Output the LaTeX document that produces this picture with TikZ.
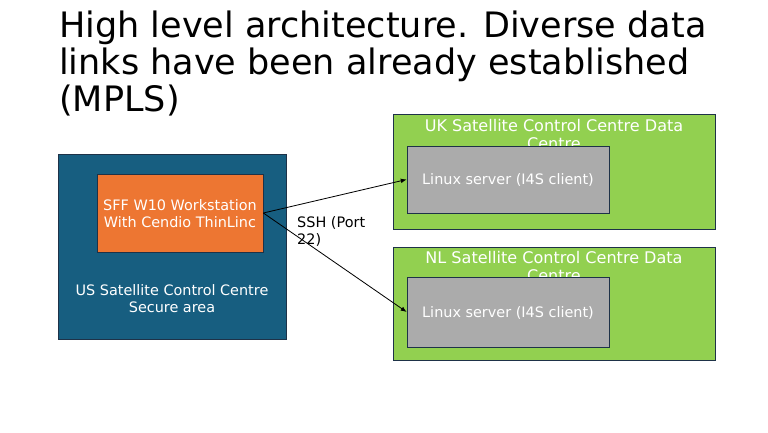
\documentclass[tikz,border=0pt]{standalone}
\usepackage{fontspec}
\setmainfont{DejaVu Sans}
\usepackage{xcolor}
\usepackage{tikz}
\usetikzlibrary{arrows.meta}
\definecolor{SCBlue}{RGB}{23,94,128}
\definecolor{SCOrange}{RGB}{237,118,50}
\definecolor{SCGreen}{RGB}{146,208,80}
\definecolor{SCGray}{RGB}{171,171,171}
\definecolor{SCEdge}{RGB}{30,50,72}

\begin{document}
\begin{tikzpicture}[x=0.03cm, y=-0.03cm,
      box/.style={rectangle, draw=SCEdge, line width=0.6pt, inner sep=0pt},
      lbl/.style={align=center, text=white, font=\fontsize{12.3}{14.5}\selectfont, inner sep=0pt},
      zonelbl/.style={lbl, font=\fontsize{13.7}{14.8}\selectfont},
      arr/.style={-{Latex[length=5pt, width=4pt]}, draw=black, line width=0.7pt}
    ]
    \useasboundingbox (0,0) rectangle (768,433);

    \node[anchor=north west, inner sep=0pt, align=left,
          font=\fontsize{29.9}{31.5}\selectfont] (title) at (59,10.4)
          {High level architecture. Diverse data\\links have been already established\\(MPLS)};

    \node[box, fill=SCBlue, minimum width=6.84cm, minimum height=5.55cm] (us) at (172,246.5) {};
    \node[lbl] (ustxt) at (172,298.5) {US Satellite Control Centre\\Secure area};
    \node[box, fill=SCOrange, minimum width=4.98cm, minimum height=2.34cm] (ws) at (180,213)
          {};
    \node[lbl] (wstxt) at (180,213.5) {SFF W10 Workstation\\With Cendio ThinLinc};

    \node[box, fill=SCGreen, minimum width=9.66cm, minimum height=3.45cm] (uk) at (554,171.5) {};
    \node[zonelbl] (uktxt) at (554,134.5) {UK Satellite Control Centre Data\\Centre};
    \node[box, fill=SCGray, minimum width=6.06cm, minimum height=2.01cm] (uksrv) at (508,179.5) {};
    \node[lbl] (uksrvtxt) at (508,180) {Linux server (I4S client)};

    \node[box, fill=SCGreen, minimum width=9.66cm, minimum height=3.39cm] (nl) at (554,303.5) {};
    \node[zonelbl] (nltxt) at (554,266.5) {NL Satellite Control Centre Data\\Centre};
    \node[box, fill=SCGray, minimum width=6.06cm, minimum height=2.1cm] (nlsrv) at (508,312) {};
    \node[lbl] (nlsrvtxt) at (508,313) {Linux server (I4S client)};

    \draw[arr] (ws.east) -- (uksrv.west);
    \draw[arr] (ws.east) -- (nlsrv.west);

    \node[lbl, text=black, align=left, anchor=west] (ssh) at (297,231.5) {SSH (Port\\22)};
  \end{tikzpicture}
\end{document}
